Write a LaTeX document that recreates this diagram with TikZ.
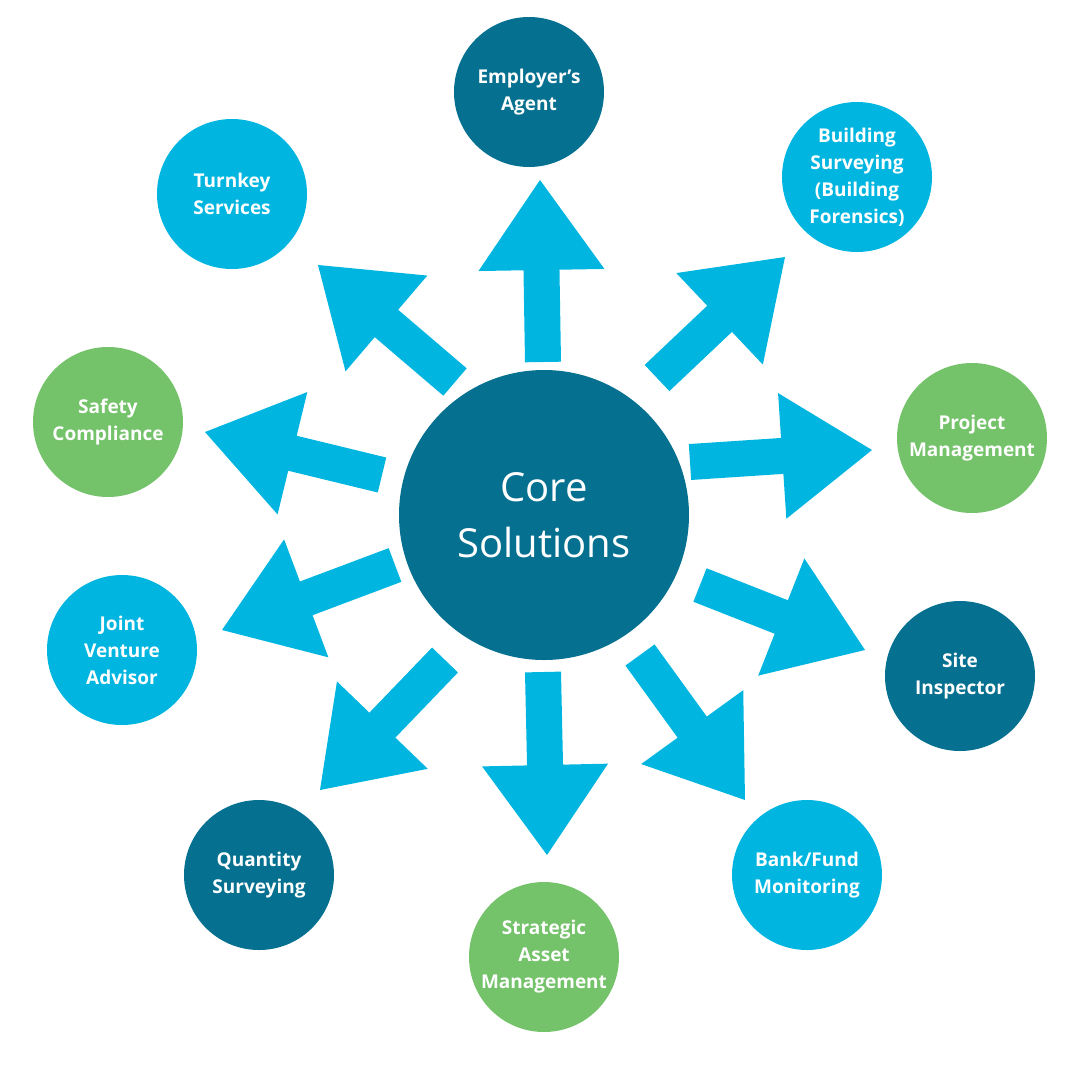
\documentclass[tikz,border=0pt]{standalone}
\usepackage{fontspec}
\setmainfont{Open Sans}
\usetikzlibrary{calc}
\definecolor{dk}{HTML}{05708F}
\definecolor{lb}{HTML}{00B6E0}
\definecolor{gr}{HTML}{74C26A}
\begin{document}
\begin{tikzpicture}[x=1pt,y=-1pt,
 sat/.style={circle,minimum size=150pt,inner sep=0pt,text=white,align=center,font=\fontsize{19}{27}\selectfont\bfseries},
 darr/.style={fill=lb}]
\useasboundingbox (0,0) rectangle (1080,1080);
\newcommand{\blockarrow}[2]{%
 \fill[darr] ($(#1)!18pt!90:(#2)$) -- ($($(#2)!90pt!(#1)$)!18pt!90:(#2)$) -- ($($(#2)!90pt!(#1)$)!63pt!90:(#2)$) -- (#2) -- ($($(#2)!90pt!(#1)$)!63pt!-90:(#2)$) -- ($($(#2)!90pt!(#1)$)!18pt!-90:(#2)$) -- ($(#1)!18pt!-90:(#2)$) -- cycle;}
\node[circle,fill=dk,minimum size=290pt,text=white,align=center,font=\fontsize{40}{56}\selectfont] (core) at (544,515) {Core\\Solutions};
\node[sat,fill=dk] (ea) at (529,92) {Employer’s\\Agent};
\node[sat,fill=lb] (bs) at (857,177) {Building\\Surveying\\(Building\\Forensics)};
\node[sat,fill=gr] (pm) at (972,438) {Project\\Management};
\node[sat,fill=dk] (si) at (960,676) {Site\\Inspector};
\node[sat,fill=lb] (bf) at (807,875) {Bank/Fund\\Monitoring};
\node[sat,fill=gr] (sa) at (544,957) {Strategic\\Asset\\Management};
\node[sat,fill=dk] (qs) at (259,875) {Quantity\\Surveying};
\node[sat,fill=lb] (jv) at (122,650) {Joint\\Venture\\Advisor};
\node[sat,fill=gr] (sc) at (108,422) {Safety\\Compliance};
\node[sat,fill=lb] (ts) at (232,194) {Turnkey\\Services};
\foreach \n/\sx/\sy/\tx/\ty in {a/543/362/540/180, b/657/378/785/257, c/690/462/872/450, d/700/585/865/650, e/640/655/745/800, f/543/672/547/855, g/445/660/320/790, h/395/565/222/630, i/382/475/205/432, j/455/382/318/265}{
 \coordinate (s\n) at (\sx,\sy); \coordinate (t\n) at (\tx,\ty);
 \blockarrow{s\n}{t\n}}
\end{tikzpicture}
\end{document}
